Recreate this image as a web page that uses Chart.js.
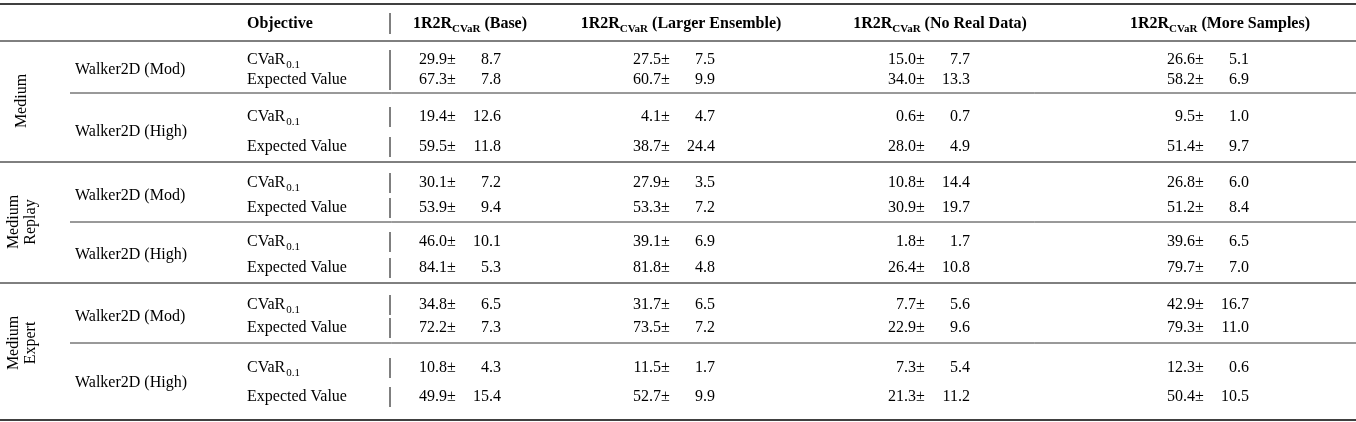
<!DOCTYPE html>
<html><head><meta charset="utf-8">
<script src="https://cdn.jsdelivr.net/npm/chart.js@4.4.1/dist/chart.umd.min.js"></script>
<style>body{margin:0;background:#fff}#wrap{width:1356px;height:422px}</style>
</head><body><div id="wrap"><canvas id="tbl"></canvas></div>
<script>
// table content
var groups = [["Medium"], ["Medium", "Replay"], ["Medium", "Expert"]];
var envs = ["Walker2D (Mod)", "Walker2D (High)"];
var objectives = ["CVaR", "Expected Value"];
var headers = ["Base", "Larger Ensemble", "No Real Data", "More Samples"];
var baseMean = [29.9, 67.3, 19.4, 59.5, 30.1, 53.9, 46.0, 84.1, 34.8, 72.2, 10.8, 49.9];
var baseStd  = [8.7, 7.8, 12.6, 11.8, 7.2, 9.4, 10.1, 5.3, 6.5, 7.3, 4.3, 15.4];
var largeMean = [27.5, 60.7, 4.1, 38.7, 27.9, 53.3, 39.1, 81.8, 31.7, 73.5, 11.5, 52.7];
var largeStd  = [7.5, 9.9, 4.7, 24.4, 3.5, 7.2, 6.9, 4.8, 6.5, 7.2, 1.7, 9.9];
var noRealMean = [15.0, 34.0, 0.6, 28.0, 10.8, 30.9, 1.8, 26.4, 7.7, 22.9, 7.3, 21.3];
var noRealStd  = [7.7, 13.3, 0.7, 4.9, 14.4, 19.7, 1.7, 10.8, 5.6, 9.6, 5.4, 11.2];
var moreMean = [26.6, 58.2, 9.5, 51.4, 26.8, 51.2, 39.6, 79.7, 42.9, 79.3, 12.3, 50.4];
var moreStd  = [5.1, 6.9, 1.0, 9.7, 6.0, 8.4, 6.5, 7.0, 16.7, 11.0, 0.6, 10.5];

// layout (pixel-space scale values)
var rowY = [60, 80, 117, 147, 183, 208, 242, 268, 305, 328, 368, 397];
var colPm = [447, 661, 916, 1195];
var headX = [470, 681, 940, 1220];
var means = [baseMean, largeMean, noRealMean, moreMean];
var stds = [baseStd, largeStd, noRealStd, moreStd];

var pts = [];
for (var c = 0; c < 4; c++) for (var r = 0; r < 12; r++) pts.push({x: colPm[c], y: rowY[r], c: c, r: r});

var SERIF = '"Liberation Serif", "DejaVu Serif", serif';

var tablePlugin = {
  id: 'table',
  afterDatasetsDraw: function(chart) {
    var ctx = chart.ctx, xs = chart.scales.x, ys = chart.scales.y;
    var X = function(v){ return xs.getPixelForValue(v); };
    var Y = function(v){ return ys.getPixelForValue(v); };
    ctx.save();
    ctx.fillStyle = '#000'; ctx.strokeStyle = '#000';
    function hline(x0, x1, y, w) { ctx.lineWidth = w; ctx.beginPath(); ctx.moveTo(X(x0), Y(y)); ctx.lineTo(X(x1), Y(y)); ctx.stroke(); }
    hline(0, 1356, 4, 1.5); hline(0, 1356, 41, 1);
    hline(0, 1356, 162, 1); hline(0, 1356, 283, 1); hline(0, 1356, 420, 1.5);
    [93, 222, 343].forEach(function(y){ hline(70, 1356, y, 0.8); });
    ctx.lineWidth = 1; ctx.beginPath(); ctx.moveTo(X(390), Y(13)); ctx.lineTo(X(390), Y(34)); ctx.stroke();
    for (var r = 0; r < 12; r++) { ctx.beginPath(); ctx.moveTo(X(390), Y(rowY[r] - 10)); ctx.lineTo(X(390), Y(rowY[r] + 10)); ctx.stroke(); }

    ctx.textBaseline = 'middle';
    // header
    ctx.font = 'bold 16px ' + SERIF; ctx.textAlign = 'left';
    ctx.fillText('Objective', X(247), Y(24));
    headers.forEach(function(h, i) {
      var a = '1R2R', b = 'CVaR', t = ' (' + h + ')';
      ctx.font = 'bold 16px ' + SERIF; var wa = ctx.measureText(a).width, wt = ctx.measureText(t).width;
      ctx.font = 'bold 11px ' + SERIF; var wb = ctx.measureText(b).width;
      var x0 = X(headX[i]) - (wa + wb + wt) / 2;
      ctx.font = 'bold 16px ' + SERIF; ctx.fillText(a, x0, Y(24));
      ctx.font = 'bold 11px ' + SERIF; ctx.fillText(b, x0 + wa, Y(29));
      ctx.font = 'bold 16px ' + SERIF; ctx.fillText(t, x0 + wa + wb, Y(24));
    });
    // group labels (rotated)
    ctx.font = '16px ' + SERIF; ctx.textAlign = 'center';
    var gy = [101, 222, 343];
    groups.forEach(function(g, i) {
      ctx.save(); ctx.translate(X(22), Y(gy[i])); ctx.rotate(-Math.PI / 2);
      g.forEach(function(line, k) { ctx.fillText(line, 0, (k - (g.length - 1) / 2) * 17); });
      ctx.restore();
    });
    // env + objective labels
    ctx.textAlign = 'left';
    for (var b = 0; b < 6; b++) {
      var r0 = rowY[2 * b], r1 = rowY[2 * b + 1];
      ctx.font = '16px ' + SERIF;
      ctx.fillText(envs[b % 2], X(75), Y((r0 + r1) / 2));
      ctx.fillText(objectives[0], X(247), Y(r0));
      var w = ctx.measureText(objectives[0]).width;
      ctx.font = '11px ' + SERIF; ctx.fillText('0.1', X(247) + w + 1, Y(r0 + 5));
      ctx.font = '16px ' + SERIF; ctx.fillText(objectives[1], X(247), Y(r1));
    }
    // values
    var meta = chart.getDatasetMeta(0);
    meta.data.forEach(function(el, i) {
      var p = pts[i];
      ctx.textAlign = 'right';
      ctx.fillText(means[p.c][p.r].toFixed(1), el.x, el.y);
      ctx.textAlign = 'left'; ctx.fillText('±', el.x, el.y);
      ctx.textAlign = 'right'; ctx.fillText(stds[p.c][p.r].toFixed(1), el.x + 54, el.y);
    });
    ctx.restore();
  }
};

new Chart(document.getElementById('tbl'), {
  type: 'scatter',
  data: { datasets: [{ data: pts, pointRadius: 0, pointHoverRadius: 0 }] },
  options: {
    animation: false, responsive: true, maintainAspectRatio: false,
    layout: { padding: 0 },
    plugins: { legend: { display: false }, tooltip: { enabled: false } },
    scales: {
      x: { type: 'linear', min: 0, max: 1356, display: false },
      y: { type: 'linear', min: 0, max: 422, reverse: true, display: false }
    }
  },
  plugins: [tablePlugin]
});
</script></body></html>
